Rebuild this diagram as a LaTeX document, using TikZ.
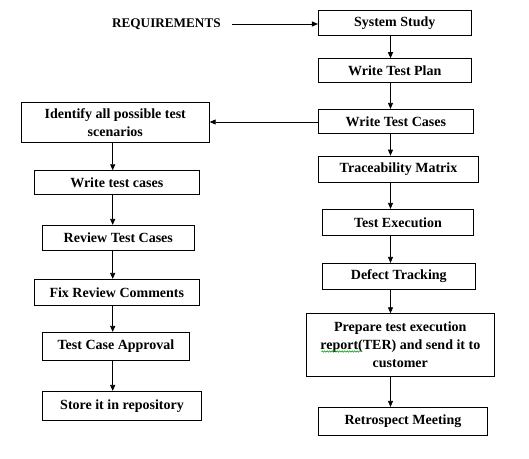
\documentclass[tikz,border=0pt]{standalone}
\usepackage{fontspec}
\setmainfont{Liberation Serif}
\usetikzlibrary{positioning}
\usetikzlibrary{calc}
\usetikzlibrary{arrows.meta}
\usetikzlibrary{decorations.pathmorphing}
\tikzset{>={Triangle[length=6bp,width=5bp]}}
\tikzset{stepbox/.style 2 args={draw, line width=0.8bp, inner sep=0pt, align=center,
    minimum width=#1bp, minimum height=#2bp,
    font=\fontsize{14bp}{18bp}\selectfont\bfseries}}
\tikzset{flow/.style={->, line width=0.8bp}}
\begin{document}
\begin{tikzpicture}[x=1bp, y=-1bp]
\useasboundingbox (0,0) rectangle (529,459);

\coordinate (colL) at (112.7, 0);
\coordinate (colR) at (390.5, 0);

\node[inner sep=0pt, font=\fontsize{13.2bp}{18bp}\selectfont\bfseries] (req) at (166.4, 24) {REQUIREMENTS};

\node[stepbox={152.7}{24.6}] (sys) at (394.7, 23) {System Study};
\node[stepbox={152.7}{23.3}] (plan) at (394.7, 70.3) {Write Test Plan};
\node[stepbox={155}{24}] (cases) at (395.8, 121.3) {Write Test Cases};
\node[stepbox={160.4}{26.3}] (trace) at (398.5, 169.2) {Traceability Matrix};
\node[stepbox={151.4}{26}] (exec) at (398, 222.3) {Test Execution};
\node[stepbox={153}{26}] (defect) at (398.8, 276.3) {Defect Tracking};
\node[stepbox={188}{62.6}] (ter) at (400.3, 345) {Prepare test execution\\report(TER) and send it to\\customer};
\node[stepbox={169.4}{28}] (retro) at (403, 421.3) {Retrospect Meeting};

\node[stepbox={188}{39.6}] (scen) at (115.3, 122.5) {Identify all possible test\\scenarios};
\node[stepbox={165}{23.6}] (wcases) at (116.8, 182.5) {Write test cases};
\node[stepbox={152}{25}] (review) at (118.3, 237.8) {Review Test Cases};
\node[stepbox={165}{26}] (fix) at (116.8, 292.3) {Fix Review Comments};
\node[stepbox={147.4}{28}] (approve) at (116, 346.3) {Test Case Approval};
\node[stepbox={159.4}{29}] (store) at (122, 405.8) {Store it in repository};

\draw[flow, shorten <=11.3bp] (req.east) -- (req.east -| sys.west);
\draw[flow] (sys.south -| colR) -- (plan.north -| colR);
\draw[flow] (plan.south -| colR) -- (cases.north -| colR);
\draw[flow] (cases.south -| colR) -- (trace.north -| colR);
\draw[flow] (trace.south -| colR) -- (exec.north -| colR);
\draw[flow] (exec.south -| colR) -- (defect.north -| colR);
\draw[flow] (defect.south -| colR) -- (ter.north -| colR);
\draw[flow] (ter.south -| colR) -- (retro.north -| colR);

\draw[flow] ($(cases.west)+(0,0.7)$) -- ($(cases.west -| scen.east)+(0,0.7)$);
\draw[flow] (scen.south -| colL) -- (wcases.north -| colL);
\draw[flow] (wcases.south -| colL) -- (review.north -| colL);
\draw[flow] (review.south -| colL) -- (fix.north -| colL);
\draw[flow] (fix.south -| colL) -- (approve.north -| colL);
\draw[flow] (approve.south -| colL) -- (store.north -| colL);

\draw[green!60!black, line width=0.5bp, decorate,
  decoration={snake, amplitude=0.8bp, segment length=2.5bp}]
  ($(ter.west)+(15.5,6.5)$) -- ($(ter.west)+(54.7,6.5)$);
\end{tikzpicture}
\end{document}
